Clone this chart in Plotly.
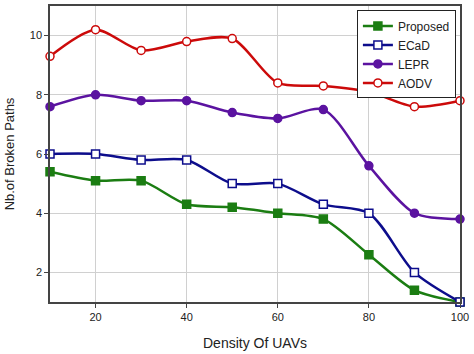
import plotly.graph_objects as go

x = [10, 20, 30, 40, 50, 60, 70, 80, 90, 100]
proposed = [5.4, 5.1, 5.1, 4.3, 4.2, 4.0, 3.8, 2.6, 1.4, 1.0]
ecad = [6.0, 6.0, 5.8, 5.8, 5.0, 5.0, 4.3, 4.0, 2.0, 1.0]
lepr = [7.6, 8.0, 7.8, 7.8, 7.4, 7.2, 7.5, 5.6, 4.0, 3.8]
aodv = [9.3, 10.2, 9.5, 9.8, 9.9, 8.4, 8.3, 8.1, 7.6, 7.8]

series = [
    ("Proposed", proposed, "#1b7d12", "square", "#1b7d12"),
    ("ECaD", ecad, "#0d0d8c", "square", "white"),
    ("LEPR", lepr, "#5b13a0", "circle", "#5b13a0"),
    ("AODV", aodv, "#cc0a0a", "circle", "white"),
]

fig = go.Figure()
for name, ys, color, sym, fill in series:
    fig.add_trace(go.Scatter(
        x=x, y=ys, name=name, mode="lines+markers",
        line=dict(color=color, width=2.5, shape="spline", smoothing=0.8),
        marker=dict(symbol=sym, size=8, color=fill, line=dict(color=color, width=1.5)),
        cliponaxis=False,
    ))

axis_common = dict(
    showgrid=True, gridcolor="#d0d0d0", gridwidth=1,
    showline=True, linecolor="#444444", linewidth=1.5, mirror=True,
    ticks="outside", ticklen=4, tickcolor="#444444",
    tickfont=dict(family="Liberation Sans, Arial", size=11, color="#222222"),
    zeroline=False,
)

fig.update_layout(
    width=474, height=354,
    margin=dict(l=50, r=14, t=4, b=52),
    plot_bgcolor="white", paper_bgcolor="white",
    font=dict(family="Liberation Sans, Arial", color="#222222"),
    showlegend=True,
    legend=dict(
        x=0.99, y=0.985, xanchor="right", yanchor="top",
        bgcolor="white", bordercolor="#222222", borderwidth=1,
        font=dict(size=12, color="#222222"),
        tracegroupgap=0, itemwidth=30,
    ),
    xaxis=dict(range=[10, 100], tickvals=[20, 40, 60, 80, 100],
               title=dict(text="Density Of UAVs", font=dict(size=14), standoff=16),
               **axis_common),
    yaxis=dict(range=[1, 11], tickvals=[2, 4, 6, 8, 10],
               title=dict(text="Nb.of Broken Paths", font=dict(size=13), standoff=12),
               **axis_common),
)

fig.write_html("out.html")
